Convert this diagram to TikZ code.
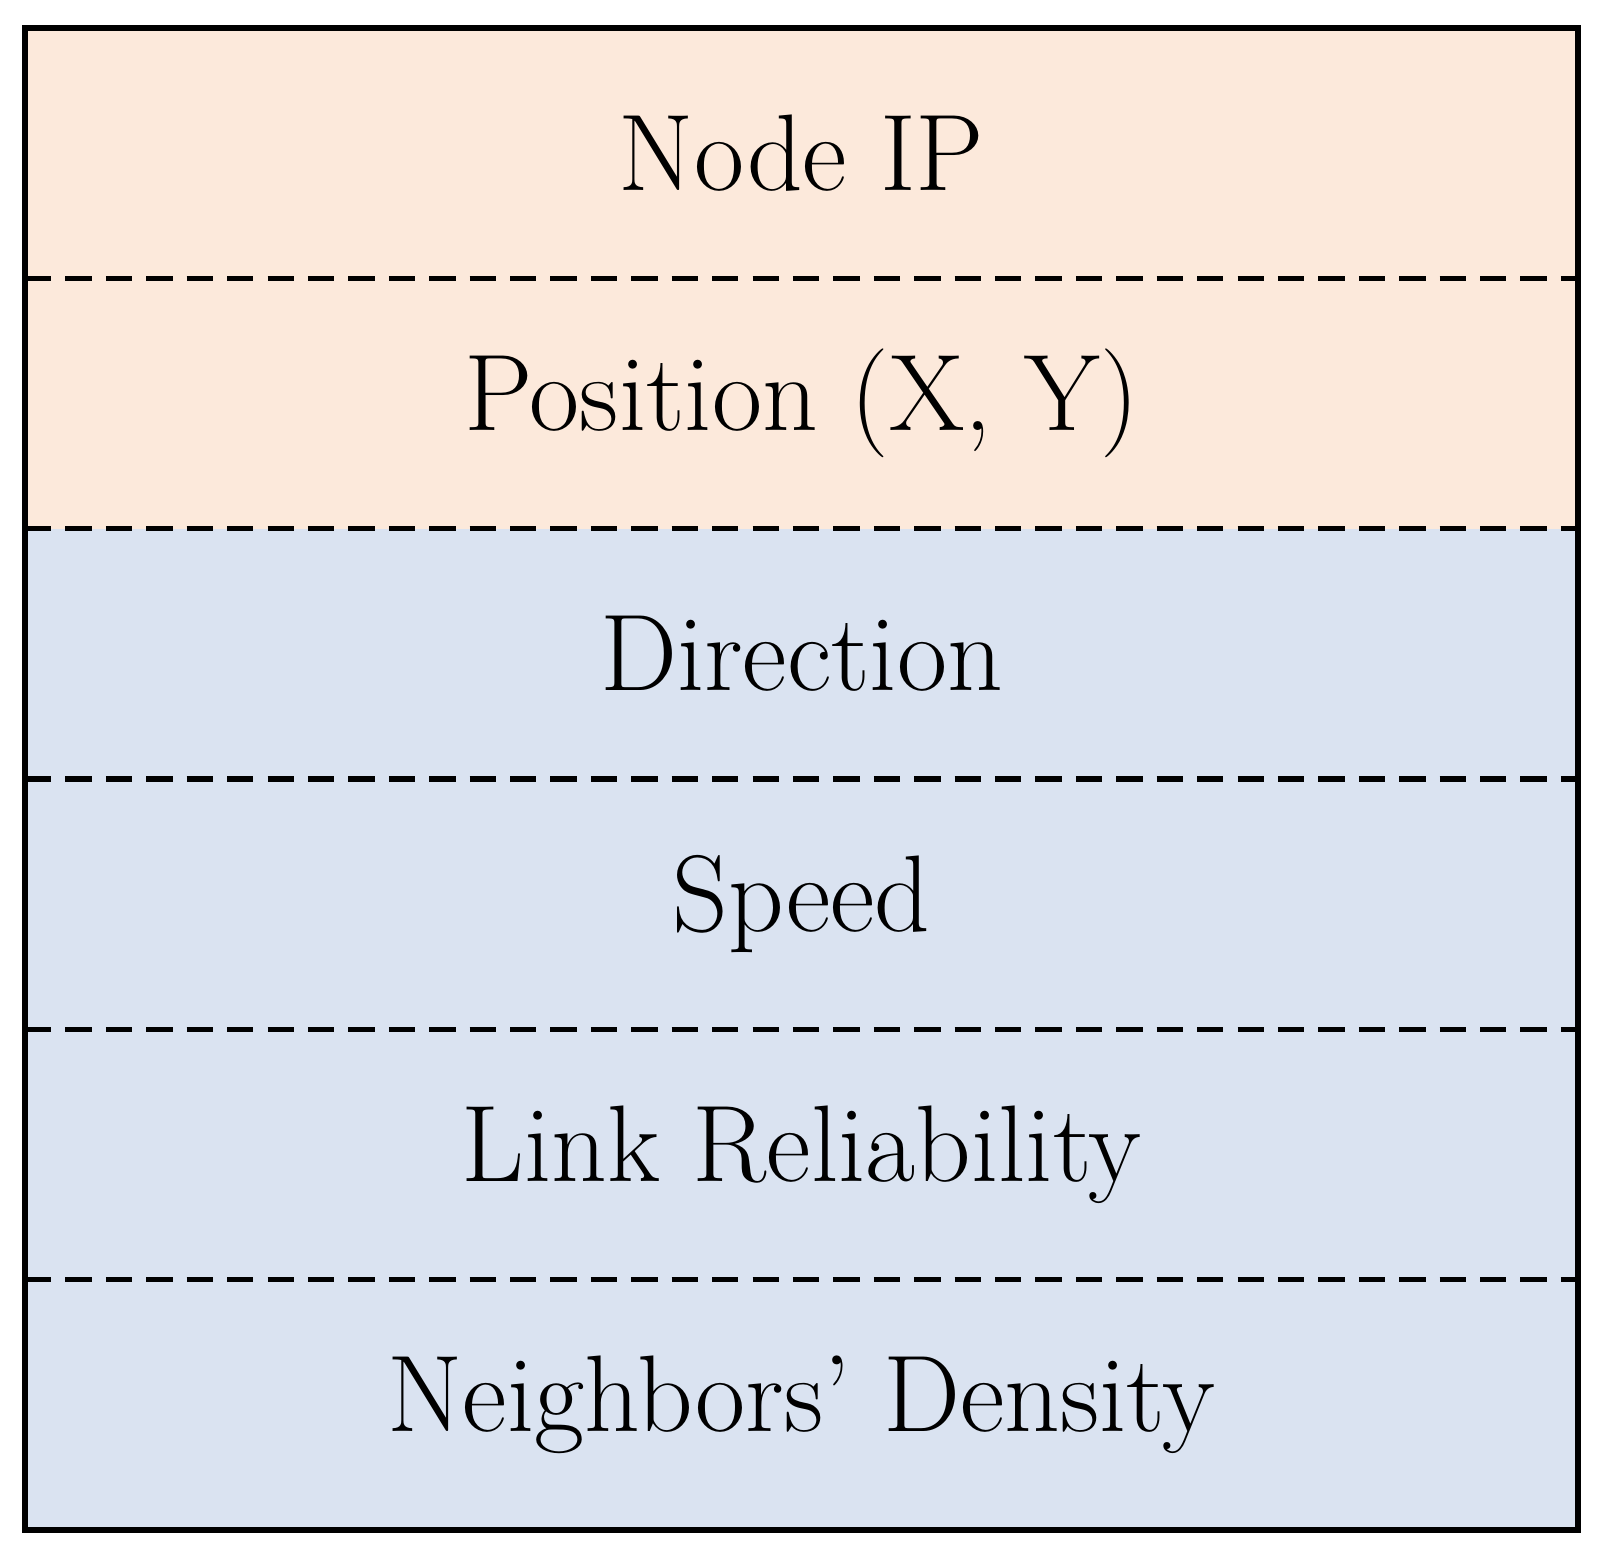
\documentclass[tikz,border=0pt]{standalone}
\usepackage{tikz}
\usetikzlibrary{positioning}
\definecolor{peach}{RGB}{252,233,219}
\definecolor{paleblue}{RGB}{218,227,241}
\begin{document}
\begin{tikzpicture}[font=\fontsize{62}{74}\selectfont,
    field/.style={minimum width=31.06cm, minimum height=5.007cm, inner sep=0pt, outer sep=0pt, anchor=north}]

\useasboundingbox (0,0) rectangle (32.06,-31);

\node[field, fill=peach] (ip) at (16.03,-0.56) { Node IP };
\node[field, fill=peach, below=0pt of ip] (pos) { Position (X, Y) };
\node[field, fill=paleblue, below=0pt of pos] (dir) { Direction };
\node[field, fill=paleblue, below=0pt of dir] (speed) { Speed };
\node[field, fill=paleblue, below=0pt of speed] (link) { Link Reliability };
\node[field, fill=paleblue, below=0pt of link] (dens) { Neighbors' Density };

\foreach \f in {ip,pos,dir,speed,link}
  \draw[line width=3pt, dash pattern=on 15pt off 8pt] (\f.south west) -- (\f.south east);

\draw[line width=3pt] (ip.north west) rectangle (dens.south east);

\end{tikzpicture}
\end{document}
